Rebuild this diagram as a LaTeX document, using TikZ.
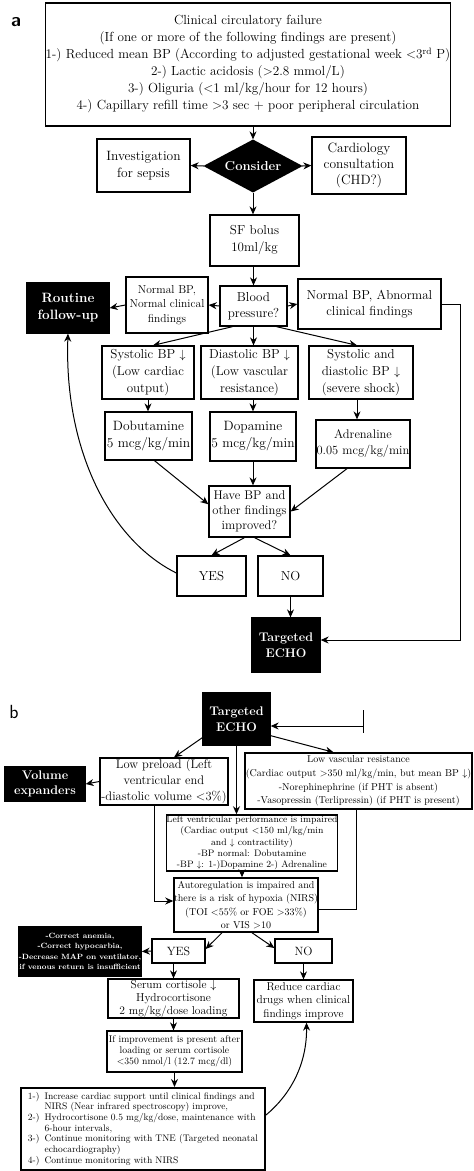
\documentclass[tikz,border=0pt]{standalone}
\usepackage{amsmath}
\usepackage{tikz}
\usetikzlibrary{shapes.geometric,arrows.meta}

\newcommand{\fs}[2]{\fontsize{#1}{#2}\selectfont}

\begin{document}
\begin{tikzpicture}[x=1pt,y=-1pt,
    box/.style={draw, line width=1.3pt, align=center, inner sep=0pt, font=\fs{13}{17}},
    dark/.style={box, fill=black, text=white},
    sz/.style 2 args={minimum width=#1pt, minimum height=#2pt},
    arr/.style={-{Stealth[length=8pt,width=7pt]}, line width=1pt}]

    \useasboundingbox (0,0) rectangle (474,1171);

    % a
    \node[font=\sffamily\bfseries\fs{19}{19}] (la) at (16,22) {a};
    \node[box, sz={394}{123}, font=\fs{13.2}{17}] (fail) at (248,64.5)
        {Clinical circulatory failure\\(If one or more of the following findings are present)\\
         1-) Reduced mean BP (According to adjusted gestational week <3\textsuperscript{rd} P)\\
         2-) Lactic acidosis (>2.8 mmol/L)\\3-) Oliguria (<1 ml/kg/hour for 12 hours)\\
         4-) Capillary refill time >3 sec + poor peripheral circulation};
    \node[diamond, draw, fill=black, line width=1.3pt, text=white, font=\bfseries\fs{13}{14},
        inner sep=0pt, aspect=1.9, sz={97}{52}] (consider) at (253,166) {Consider};
    \node[box, sz={93}{53}, font=\fs{13.5}{17}] (sepsis) at (143.5,165.5) {Investigation\\for sepsis};
    \node[box, sz={94}{57}, font=\fs{13.5}{16}] (cardio) at (359,165.5) {Cardiology\\consultation\\(CHD?)};
    \node[box, sz={89}{51}] (bolus) at (254.5,240.5) {SF bolus\\10ml/kg};
    \node[box, sz={67}{40}, font=\fs{13}{15.7}] (bp) at (253.5,306) {Blood\\pressure?};
    \node[box, sz={82}{56}, font=\fs{11.5}{14.5}] (normal) at (167,305) {Normal BP,\\Normal clinical\\findings};
    \node[dark, sz={82}{50}, font=\bfseries\fs{13.5}{17}] (routine) at (68,308) {Routine\\follow-up};
    \node[box, sz={143}{50}, font=\fs{13}{16}] (abnormal) at (369.5,304) {Normal BP, Abnormal\\clinical findings};
    \node[box, sz={92}{53}] (sys) at (148,372.5) {Systolic BP $\downarrow$\\(Low cardiac\\output)};
    \node[box, sz={97}{53}] (dia) at (249.5,372.5) {Diastolic BP $\downarrow$\\(Low vascular\\resistance)};
    \node[box, sz={104}{53}] (both) at (361,372.5) {Systolic and\\diastolic BP $\downarrow$\\(severe shock)};
    \node[box, sz={87}{48}, font=\fs{13.5}{16.5}] (dobu) at (148.5,436) {Dobutamine\\5 mcg/kg/min};
    \node[box, sz={86}{49}, font=\fs{13.5}{17}] (dopa) at (253,436.5) {Dopamine\\5 mcg/kg/min};
    \node[box, sz={94}{48}, font=\fs{12.5}{16}] (adren) at (363,444) {Adrenaline\\0.05 mcg/kg/min};
    \node[box, sz={81}{51}, font=\fs{12.6}{15.3}] (improved) at (249.5,511.5) {Have BP and\\other findings\\improved?};
    \node[box, sz={69}{40}] (yesa) at (211.5,576) {YES};
    \node[box, sz={65}{40}] (noa) at (290.5,576) {NO};
    \node[dark, sz={68}{54}, font=\bfseries\fs{12.5}{16.5}] (echoa) at (286,645) {Targeted\\ECHO};
    \coordinate (turn) at (460,640);

    \draw[arr] (consider.north |- fail.south) -- (consider.north);
    \draw[arr] (consider.west) -- (sepsis.east);
    \draw[arr] (consider.east) -- (cardio.west);
    \draw[arr] (consider.south) -- (consider.south |- bolus.north);
    \draw[arr] (bp.north |- bolus.south) -- (bp.north);
    \draw[arr] (bp.west) -- (normal.east);
    \draw[arr] (normal.west) -- (routine.east);
    \draw[arr] (bp.east) -- (abnormal.west);
    \draw[arr] (abnormal.east) -| (turn) -- (turn -| echoa.east);
    \draw[arr] ([xshift=-21pt]bp.south) -- ([xshift=5pt]sys.north);
    \draw[arr] (bp.south) -- (bp.south |- dia.north);
    \draw[arr] ([xshift=23pt]bp.south) -- ([xshift=-4pt]both.north);
    \draw[arr] (sys.south) -- (sys.south |- dobu.north);
    \draw[arr] (dopa.north |- dia.south) -- (dopa.north);
    \draw[arr] ([xshift=-4pt]both.south) -- ([xshift=-4pt]both.south |- adren.north);
    \draw[arr] ([xshift=6pt]dobu.south) -- (improved.170);
    \draw[arr] (dopa.south) -- (dopa.south |- improved.north);
    \draw[arr] ([xshift=-16pt]adren.south) -- (improved.east);
    \draw[arr] ([xshift=-5pt]improved.south) -- (yesa.north);
    \draw[arr] ([xshift=5pt]improved.south) -- (noa.north);
    \draw[arr] (noa.south) -- (noa.south |- echoa.north);
    \draw[arr] ([yshift=3pt]yesa.west) .. controls (110,540) and (64,450) .. (routine.south);

    % b
    \node[font=\sffamily\fs{19}{19}] (lb) at (14,712) {b};
    \node[dark, sz={67}{52}, font=\bfseries\fs{12.5}{16.5}] (echob) at (236.5,719) {Targeted\\ECHO};
    \node[box, sz={128}{47}, font=\fs{12.5}{16}] (preload) at (164,781.5)
        {Low preload (Left\\ventricular end\\-diastolic volume <3\%)};
    \node[dark, sz={80}{34}, font=\bfseries\fs{12.5}{15}] (volume) at (45,784) {Volume\\expanders};
    \node[box, sz={227}{56}, font=\fs{10}{13.8}, line width=1.5pt] (lowvr) at (358.5,781)
        {Low vascular resistance\\(Cardiac output >350 ml/kg/min, but mean BP $\downarrow$)\\
         -Norephinephrine (if PHT is absent)\\-Vasopressin (Terlipressin) (if PHT is present)};
    \node[box, sz={168}{56}, font=\fs{9.4}{11.4}, line width=1.5pt] (lvperf) at (252,843)
        {Left ventricular performance is impaired\\(Cardiac output <150 ml/kg/min\\
         and $\downarrow$ contractility)\\-BP normal: Dobutamine\\-BP $\downarrow$: 1-)Dopamine 2-) Adrenaline};
    \node[box, sz={144}{54}, font=\fs{10}{13.3}, line width=1.5pt] (autoreg) at (246,905)
        {Autoregulation is impaired and\\there is a risk of hypoxia (NIRS)\\(TOI <55\% or FOE >33\%)\\or VIS >10};
    \node[box, sz={53}{24}, font=\fs{12}{14}] (yesb) at (178.5,951) {YES};
    \node[box, sz={57}{24}, font=\fs{12}{14}] (nob) at (303.5,951) {NO};
    \node[dark, sz={114}{49}, font=\bfseries\fs{7.6}{10.5}] (correct) at (80,951.5)
        {-Correct anemia,\\-Correct hypocarbia,\\-Decrease MAP on ventilator,\\if venous return is insufficient};
    \node[box, sz={131}{39}, font=\fs{11.5}{13}] (serum) at (173.5,998.5)
        {Serum cortisole $\downarrow$\\Hydrocortisone\\2 mg/kg/dose loading};
    \node[box, sz={99}{42}, font=\fs{11.4}{13.5}] (reduce) at (303.5,1001)
        {Reduce cardiac\\drugs when clinical\\findings improve};
    \node[box, sz={135}{41}, font=\fs{9.7}{11}] (ifimp) at (174.5,1051.5)
        {If improvement is present after\\loading or serum cortisole\\<350 nmol/l (12.7 mcg/dl)};
    \node[box, sz={244}{82}, font=\fs{9.5}{10.7}, line width=2pt, align=left] (steps) at (143,1129)
        {\begin{tabular}{@{}l@{\hspace{5pt}}l@{}}
         1-) & Increase cardiac support until clinical findings and\\
             & NIRS (Near infrared spectroscopy) improve,\\
         2-) & Hydrocortisone 0.5 mg/kg/dose, maintenance with\\
             & 6-hour intervals,\\
         3-) & Continue monitoring with TNE (Targeted neonatal\\
             & echocardiography)\\
         4-) & Continue monitoring with NIRS
         \end{tabular}};
    \coordinate (from) at (363,726);

    \draw[arr] (from) -- (from -| echob.east);
    \draw[line width=1pt] ([yshift=16pt]from) -- ([yshift=-7pt]from);
    \draw[arr] ([yshift=8pt]echob.south west) -- ([xshift=10pt]preload.north);
    \draw[arr] (echob.south) -- (echob.south |- lvperf.north);
    \draw[arr] ([yshift=10pt]echob.south east) -- ([xshift=-25pt]lowvr.north);
    \draw[arr] (preload.west) -- (volume.east);
    \draw[arr] ([xshift=-10pt]preload.south) |- ([yshift=4pt]autoreg.west);
    \draw[line width=1pt] ([xshift=-2pt]lowvr.south) |- ([yshift=-4pt]autoreg.east);
    \draw[arr] ([xshift=-10pt]lvperf.south) -- ([xshift=-4pt]autoreg.north);
    \draw[arr] ([xshift=-24pt]autoreg.south) -- ([yshift=2pt]yesb.east);
    \draw[arr] ([xshift=6pt]autoreg.south) -- ([yshift=3pt]nob.west);
    \draw[arr] (yesb.west) -- (correct.east);
    \draw[arr] (serum.north |- yesb.south) -- (serum.north);
    \draw[arr] (nob.south) -- (reduce.north);
    \draw[arr] (serum.south) -- (serum.south |- ifimp.north);
    \draw[arr] (ifimp.south) -- (ifimp.south |- steps.north);
    \draw[arr] ([yshift=14pt]steps.east) .. controls (290,1095) and (307,1065) .. ([xshift=3pt]reduce.south);

\end{tikzpicture}
\end{document}
